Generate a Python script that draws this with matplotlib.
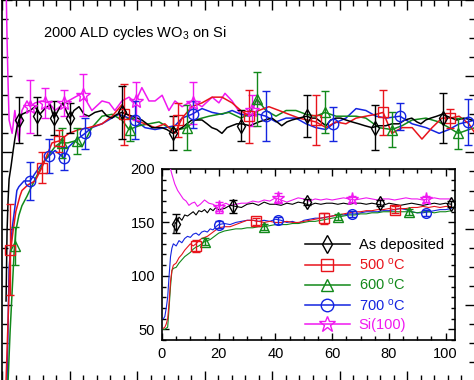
import matplotlib
matplotlib.use("Agg")
import matplotlib.pyplot as plt
from matplotlib.lines import Line2D
from matplotlib.ticker import MultipleLocator

plt.rcParams.update({
    "font.family": "Liberation Sans", "font.size": 10,
    "mathtext.fontset": "custom", "mathtext.rm": "Liberation Sans",
    "mathtext.it": "Liberation Sans:italic",
})

BLACK, RED, GREEN, BLUE, PINK = "black", "#e8141c", "#12891a", "#1424e0", "#f018f0"

# ---------------- main panel (full run, axis labels cropped off) ----------------
black_x = [1.2, 1.5, 1.8, 2.1, 2.7, 3.3, 3.8, 4.4, 5.0, 5.9, 7.1, 8.3, 9.8, 11.2, 12.7, 14.2, 15.4, 16.6,
           18.0, 19.2, 20.1, 21.3, 22.8, 24.3, 25.7, 27.5, 29.6, 31.1, 32.5, 34.0, 35.5, 37.0, 38.5, 40.0,
           41.4, 42.9, 44.4, 45.9, 47.3, 48.8, 50.6, 52.1, 53.3, 54.7, 56.2, 57.7, 59.2, 60.7, 62.1, 63.6,
           65.1, 66.6, 68.0, 69.5, 71.0, 73.4, 76.0, 77.8, 79.9, 81.4, 82.8, 84.3, 85.8, 87.9, 90.2, 91.7,
           92.9, 94.4, 95.9, 97.3, 98.8, 100.3, 101.8, 103.6, 105.6, 107.4, 109.5, 111.5, 113.6, 115.4,
           117.5, 119.2, 121.3, 122.8, 124.0, 125.4, 126.9, 128.7, 130.2, 131.7, 133.1, 134.6, 136.7, 139.1]
black_y = [42, 79, 95, 106, 113, 121, 127, 133, 137, 140, 141, 142, 144, 140, 143, 145, 138, 142,
           146, 141, 138, 142, 144, 140, 139, 141, 142, 139, 138, 140, 141, 140, 139, 138,
           137, 135, 133, 133, 133, 132, 130, 132, 133, 135, 137, 137, 137, 135, 133, 132,
           130, 133, 134, 135, 135, 134, 136, 137, 138, 136, 134, 136, 137, 138, 139, 138,
           138, 136, 134, 137, 138, 138, 137, 136, 135, 134, 133, 134, 134, 135,
           135, 137, 138, 136, 135, 137, 138, 139, 140, 139, 138, 137, 138, 137]
black_mx = [5.0, 10.4, 15.4, 20.1, 35.5, 50.6, 70.7, 90.2, 110.4, 130.5]
black_my = [137, 139, 138, 138, 141, 130, 134, 139, 133, 138]
black_me = [12, 10, 9, 8, 14, 9, 8, 11, 12, 13]

red_x = [1.2, 1.8, 2.4, 3.3, 4.1, 5.3, 5.9, 7.7, 9.8, 11.8, 14.8, 16.9, 19.8, 22.8, 25.7, 29.6, 32.6,
         35.5, 37.0, 39.4, 42.3, 45.3, 48.2, 51.2, 53.3, 56.2, 59.2, 62.2, 65.1, 68.1, 70.7, 73.1, 76.0,
         79.0, 82.0, 84.9, 87.9, 92.9, 95.9, 98.8, 101.8, 104.8, 107.7, 110.7, 112.8, 115.4, 118.4,
         121.4, 124.3, 127.3, 130.2, 132.6, 135.3, 138.2, 140.0]
red_y = [0, 32, 66, 79, 89, 97, 100, 103, 105, 112, 125, 126, 130, 132, 133, 135, 139,
         145, 140, 137, 135, 133, 135, 130, 138, 144, 146, 149, 149, 146, 142, 139, 142,
         144, 142, 140, 138, 136, 133, 136, 135, 138, 139, 140, 141, 130, 133,
         133, 127, 133, 138, 138, 139, 135, 130]
red_mx = [2.4, 11.8, 16.9, 36.1, 52.1, 73.1, 92.9, 112.8, 132.6]
red_my = [69, 112, 126, 140, 137, 139, 137, 141, 138]
red_me = [24, 8, 6, 16, 9, 14, 13, 12, 5]

green_x = [1.8, 2.4, 3.0, 3.6, 4.1, 5.0, 5.9, 7.4, 9.8, 12.7, 15.7, 17.2, 19.5, 21.6, 23.7, 26.6, 29.6,
           32.6, 35.5, 37.6, 40.6, 43.5, 46.5, 49.4, 52.4, 54.8, 57.1, 61.3, 64.2, 67.2, 70.7, 73.1,
           75.5, 78.1, 81.1, 84.1, 87.0, 90.0, 92.9, 95.6, 98.9, 101.8, 104.8, 107.7, 111.6, 115.4,
           118.4, 121.4, 125.5, 129.3, 132.3, 135.0, 138.2, 140.0]
green_y = [0, 26, 47, 68, 79, 87, 92, 97, 106, 116, 123, 125, 125, 126, 123, 133, 139,
           140, 137, 132, 134, 135, 136, 133, 132, 133, 137, 139, 140, 141, 138, 140,
           148, 142, 139, 142, 142, 140, 139, 141, 139, 139, 139, 138, 133, 132,
           134, 137, 138, 136, 133, 130, 132, 133]
green_mx = [3.8, 17.8, 22.2, 37.9, 54.8, 75.5, 95.6, 115.4, 135.0]
green_my = [71, 125, 126, 132, 133, 148, 141, 132, 130]
green_me = [10, 8, 7, 6, 12, 14, 11, 9, 8]

blue_x = [1.5, 2.1, 3.0, 3.8, 4.4, 5.0, 6.5, 8.3, 9.8, 11.8, 13.9, 15.7, 18.4, 19.8, 21.6, 24.6, 26.6,
          29.6, 32.5, 34.6, 37.6, 39.4, 42.3, 45.3, 48.2, 51.2, 53.3, 56.2, 59.2, 62.2, 65.1, 68.1,
          70.7, 73.1, 76.0, 78.1, 81.1, 84.1, 87.0, 90.0, 92.9, 95.9, 98.0, 101.8, 104.8, 107.7,
          110.7, 113.7, 117.8, 121.4, 125.5, 129.4, 132.3, 135.3, 137.9, 140.0]
blue_y = [0, 59, 80, 91, 100, 102, 105, 105, 109, 114, 118, 121, 117, 123, 126, 130, 133,
          135, 138, 140, 138, 137, 133, 132, 133, 134, 138, 140, 143, 141, 140, 142,
          140, 139, 140, 139, 136, 138, 138, 135, 133, 132, 135, 138, 143, 142,
          139, 138, 139, 135, 133, 130, 132, 135, 136, 137]
blue_mx = [8.3, 13.9, 18.4, 24.6, 39.4, 56.5, 78.1, 98.0, 117.8, 137.9]
blue_my = [105, 118, 117, 130, 137, 140, 139, 135, 139, 136]
blue_me = [10, 9, 6, 8, 10, 7, 13, 9, 7, 12]

si_x = [1.0, 1.5, 1.8, 2.1, 3.0, 3.8, 5.0, 5.9, 7.4, 8.3, 9.8, 11.8, 13.9, 15.7, 18.6, 21.6, 23.7,
        26.6, 29.6, 31.7, 33.4, 35.5, 37.6, 39.4, 41.4, 43.5, 45.3, 47.4, 49.4, 51.2, 53.3, 56.2,
        59.2, 62.2, 64.2, 66.0, 68.1, 70.7, 72.2, 74.0, 75.5, 76.4]
si_y = [230, 179, 156, 137, 130, 142, 126, 142, 147, 144, 146, 147, 146, 142, 146, 149, 151,
        142, 147, 146, 142, 147, 149, 146, 154, 147, 147, 150, 142, 147, 144, 147,
        144, 149, 146, 151, 147, 140, 140, 142, 148, 145]
si_mx = [8.3, 12.7, 18.4, 24.0, 39.7, 56.5, 74.0]
si_my = [144, 146, 146, 150, 147, 146, 142]
si_me = [14, 8, 7, 11, 10, 11, 8]

# ---------------- inset (first 100) ----------------
grid_x = [0.5, 1, 1.5, 2, 2.5, 3, 3.5, 4] + list(range(5, 21)) + list(range(22, 103, 2))
in_blue = [60, 62, 70, 80, 100, 118, 126, 130, 128, 133, 131, 135, 137, 136, 139, 140, 138, 141,
           142, 141, 144, 143, 146, 148,
           149, 148, 150, 151, 152, 152, 151, 152, 151, 153, 152, 150, 151, 149, 152, 153, 154, 154,
           155, 156, 157, 157, 158, 158, 159, 160, 160, 160, 161, 161, 162, 163, 162, 160, 159, 159,
           160, 161, 162, 162, 163]
in_red = [51, 52, 55, 60, 75, 95, 105, 110, 112, 117, 120, 124, 127, 130, 128, 130, 133, 135,
          136, 137, 139, 141, 143, 145,
          146, 146, 148, 150, 152, 152, 151, 150, 151, 150, 150, 151, 150, 150, 151, 152, 153, 154,
          155, 156, 157, 158, 159, 160, 160, 161, 161, 162, 162, 163, 162, 163, 163, 164, 164, 165,
          164, 165, 164, 165, 165]
in_green = [50, 50, 51, 52, 70, 90, 105, 107, 108, 112, 115, 118, 120, 122, 125, 127, 128, 130,
            132, 133, 134, 136, 138, 140,
            142, 143, 144, 144, 145, 145, 146, 146, 147, 148, 148, 148, 149, 149, 150, 151, 151, 152,
            153, 154, 155, 156, 157, 157, 158, 158, 159, 159, 160, 160, 160, 160, 160, 160, 159, 160,
            160, 159, 160, 160, 161]
in_black_x = [4.2, 4.6, 5] + list(range(6, 21)) + list(range(22, 103, 2))
in_black = [140, 150, 149, 155, 152, 157, 156, 158, 160, 157, 161, 160, 162, 159, 163, 161, 164, 162,
            163, 166, 165, 164, 167, 168, 166, 169, 167, 167, 166, 168, 167, 169, 168, 166, 168, 167,
            168, 168, 167, 168, 167, 168, 168, 167, 168, 167, 166, 168, 167, 166, 167, 168, 167, 166,
            167, 168, 167, 168, 167]
in_si_x = [2.5, 3.5, 4.5, 5.5, 6.5, 7.5, 8.5, 9.5, 10.5, 11.5, 12.5, 13.5, 15, 16.5, 18, 19.5, 21,
           22.5, 24] + list(range(26, 103, 2))
in_si = [205, 195, 186, 180, 176, 172, 170, 166, 168, 169, 165, 167, 171, 168, 167, 164, 166, 168, 166,
         167, 168, 168, 170, 169, 171, 170, 173, 171, 169, 171, 173, 172, 170, 172, 171, 172, 171, 172,
         173, 172, 171, 172, 173, 172, 171, 172, 172, 171, 172, 173, 172, 172, 171, 172, 173, 172, 172, 172]

in_black_mx, in_black_my, in_black_me = [5, 25, 51, 77, 102], [149, 165, 169, 168, 167], [9, 6, 3, 3, 3]
in_red_mx, in_red_my, in_red_me = [12, 33, 57, 82], [128, 151, 154, 162], [6, 3, 5, 3]
in_green_mx, in_green_my, in_green_me = [15, 36, 62, 87], [132, 146, 155, 160], [3, 3, 3, 3]
in_blue_mx, in_blue_my, in_blue_me = [20, 41, 67, 93], [148, 152, 158, 159], [3, 3, 3, 3]
in_si_mx, in_si_my, in_si_me = [20, 41, 67, 93], [164, 173, 172, 172], [5, 5, 3, 3]

labels = ["As deposited", r"500 $^{\rm o}$C", r"600 $^{\rm o}$C", r"700 $^{\rm o}$C", "Si(100)"]
colors = [BLACK, RED, GREEN, BLUE, PINK]
markers = ["d", "s", "^", "o", "*"]


def draw(ax, x, y, mx, my, me, color, marker, ms, lw):
    ax.plot(x, y, color=color, lw=lw, zorder=3)
    ax.errorbar(mx, my, yerr=me, fmt=marker, ms=ms, mfc="none", mec=color, mew=1.0,
                ecolor=color, elinewidth=1.0, capsize=3, capthick=1.0, zorder=4)


fig = plt.figure(figsize=(4.74, 3.80), dpi=100)
ax = fig.add_axes([2 / 474, -1 / 380, 473 / 474, 381 / 380])
main = [(black_x, black_y, black_mx, black_my, black_me),
        (red_x, red_y, red_mx, red_my, red_me),
        (green_x, green_y, green_mx, green_my, green_me),
        (blue_x, blue_y, blue_mx, blue_my, blue_me),
        (si_x, si_y, si_mx, si_my, si_me)]
for (x, y, mx, my, me), c, m in zip(main[::-1], colors[::-1], markers[::-1]):
    draw(ax, x, y, mx, my, me, c, m, 7.5 if m != "*" else 10, 1.1)
ax.set_xlim(0, 140)
ax.set_ylim(0, 200)
ax.xaxis.set_major_locator(MultipleLocator(20))
ax.xaxis.set_minor_locator(MultipleLocator(4))
ax.yaxis.set_major_locator(MultipleLocator(40))
ax.yaxis.set_minor_locator(MultipleLocator(10))
ax.tick_params(which="both", direction="in", top=True, right=True,
               labelleft=False, labelbottom=False)
ax.tick_params(which="major", length=7.5, width=1)
ax.tick_params(which="minor", length=4, width=1)
for s in ax.spines.values():
    s.set_linewidth(1.2)
fig.text(43 / 474, 1 - 33 / 380, r"2000 ALD cycles WO$_{\rm 3}$ on Si", fontsize=10.5,
         ha="left", va="center")

# inset
ins = fig.add_axes([162 / 474, 40 / 380, 293 / 474, 171 / 380])
inset = [(in_black_x, in_black, in_black_mx, in_black_my, in_black_me),
         (grid_x, in_red, in_red_mx, in_red_my, in_red_me),
         (grid_x, in_green, in_green_mx, in_green_my, in_green_me),
         (grid_x, in_blue, in_blue_mx, in_blue_my, in_blue_me),
         (in_si_x, in_si, in_si_mx, in_si_my, in_si_me)]
for (x, y, mx, my, me), c, m in zip(inset[::-1], colors[::-1], markers[::-1]):
    draw(ins, x, y, mx, my, me, c, m, 7 if m != "*" else 9.5, 0.8)
ins.set_xlim(0, 103.3)
ins.set_ylim(40, 200)
ins.set_xticks([0, 20, 40, 60, 80, 100])
ins.set_yticks([50, 100, 150, 200])
ins.xaxis.set_minor_locator(MultipleLocator(5))
ins.yaxis.set_minor_locator(MultipleLocator(10))
ins.tick_params(which="both", direction="in", top=True, right=True, labelsize=10.5, pad=5)
ins.tick_params(which="major", length=5, width=1)
ins.tick_params(which="minor", length=3, width=1)
for s in ins.spines.values():
    s.set_linewidth(1.2)

handles = [Line2D([], [], color=c, lw=1.1, marker=m, ms=(9 if m != "*" else 12), mfc="none", mec=c)
           for c, m in zip(colors, markers)]
leg = ins.legend(handles, labels, loc="upper left", bbox_to_anchor=(0.487, 0.595), frameon=False,
                 fontsize=10.5, handlelength=3.1, handletextpad=0.6, labelspacing=0.3,
                 borderpad=0, borderaxespad=0)
for t, c in zip(leg.get_texts(), colors):
    t.set_color(c)

fig.savefig("out.png", dpi=100)
